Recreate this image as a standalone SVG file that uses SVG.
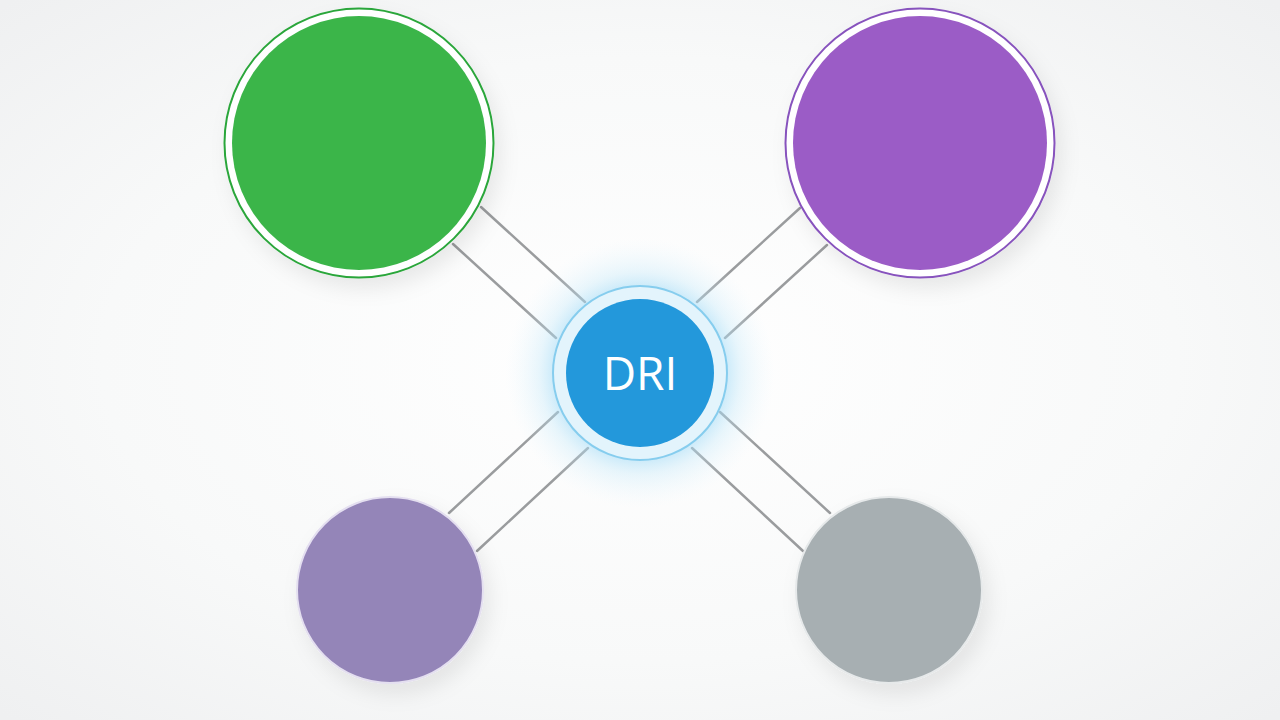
<svg xmlns="http://www.w3.org/2000/svg" width="1280" height="720" viewBox="0 0 1280 720">
<defs>
<radialGradient id="bg" cx="50%" cy="50%" r="70%">
<stop offset="0" stop-color="#ffffff"/>
<stop offset="0.6" stop-color="#f8f9f9"/>
<stop offset="1" stop-color="#eff0f1"/>
</radialGradient>
<radialGradient id="glow" cx="50%" cy="50%" r="50%">
<stop offset="0.55" stop-color="#8fd3f5" stop-opacity="0.75"/>
<stop offset="0.75" stop-color="#bfe6f8" stop-opacity="0.35"/>
<stop offset="1" stop-color="#e6f5fc" stop-opacity="0"/>
</radialGradient>
<filter id="shadow" x="-30%" y="-30%" width="160%" height="160%">
<feDropShadow dx="6" dy="10" stdDeviation="10" flood-color="#000" flood-opacity="0.08"/>
</filter>
<style>
.conn{stroke:#9a9c9e;stroke-width:2.5;fill:none;stroke-linecap:round}
.lbl{font-family:"Open Sans","Noto Sans","Liberation Sans",sans-serif;font-size:46px;font-weight:500;fill:#ffffff;text-anchor:middle}
</style>
</defs>
<rect width="1280" height="720" fill="url(#bg)"/>
<g id="connectors">
<line class="conn" x1="481" y1="207" x2="585" y2="302"/>
<line class="conn" x1="453" y1="244" x2="556" y2="338"/>
<line class="conn" x1="697" y1="302" x2="800" y2="208"/>
<line class="conn" x1="725" y1="338" x2="827" y2="245"/>
<line class="conn" x1="449" y1="513" x2="558" y2="412"/>
<line class="conn" x1="477" y1="551" x2="588" y2="448"/>
<line class="conn" x1="720" y1="412" x2="830" y2="513"/>
<line class="conn" x1="692" y1="448" x2="803" y2="551"/>
</g>
<g id="node-green" filter="url(#shadow)">
<circle cx="359" cy="143" r="134.5" fill="#ffffff" stroke="#2aa63a" stroke-width="2"/>
<circle cx="359" cy="143" r="127" fill="#3bb54a"/>
</g>
<g id="node-purple" filter="url(#shadow)">
<circle cx="920" cy="143" r="134.5" fill="#ffffff" stroke="#8752bd" stroke-width="2"/>
<circle cx="920" cy="143" r="127" fill="#9b5cc6"/>
</g>
<g id="node-lavender" filter="url(#shadow)">
<circle cx="390" cy="590" r="93" fill="#9485b8" stroke="#e4dff0" stroke-width="2"/>
</g>
<g id="node-gray" filter="url(#shadow)">
<circle cx="889" cy="590" r="93" fill="#a7afb2" stroke="#e6e9ea" stroke-width="2"/>
</g>
<g id="node-dri">
<circle cx="640" cy="373" r="135" fill="url(#glow)"/>
<circle cx="640" cy="373" r="87" fill="#e3f4fc" stroke="#86cdee" stroke-width="2"/>
<circle cx="640" cy="373" r="74" fill="#2398db"/>
<text class="lbl" x="640" y="390">DRI</text>
</g>
</svg>
